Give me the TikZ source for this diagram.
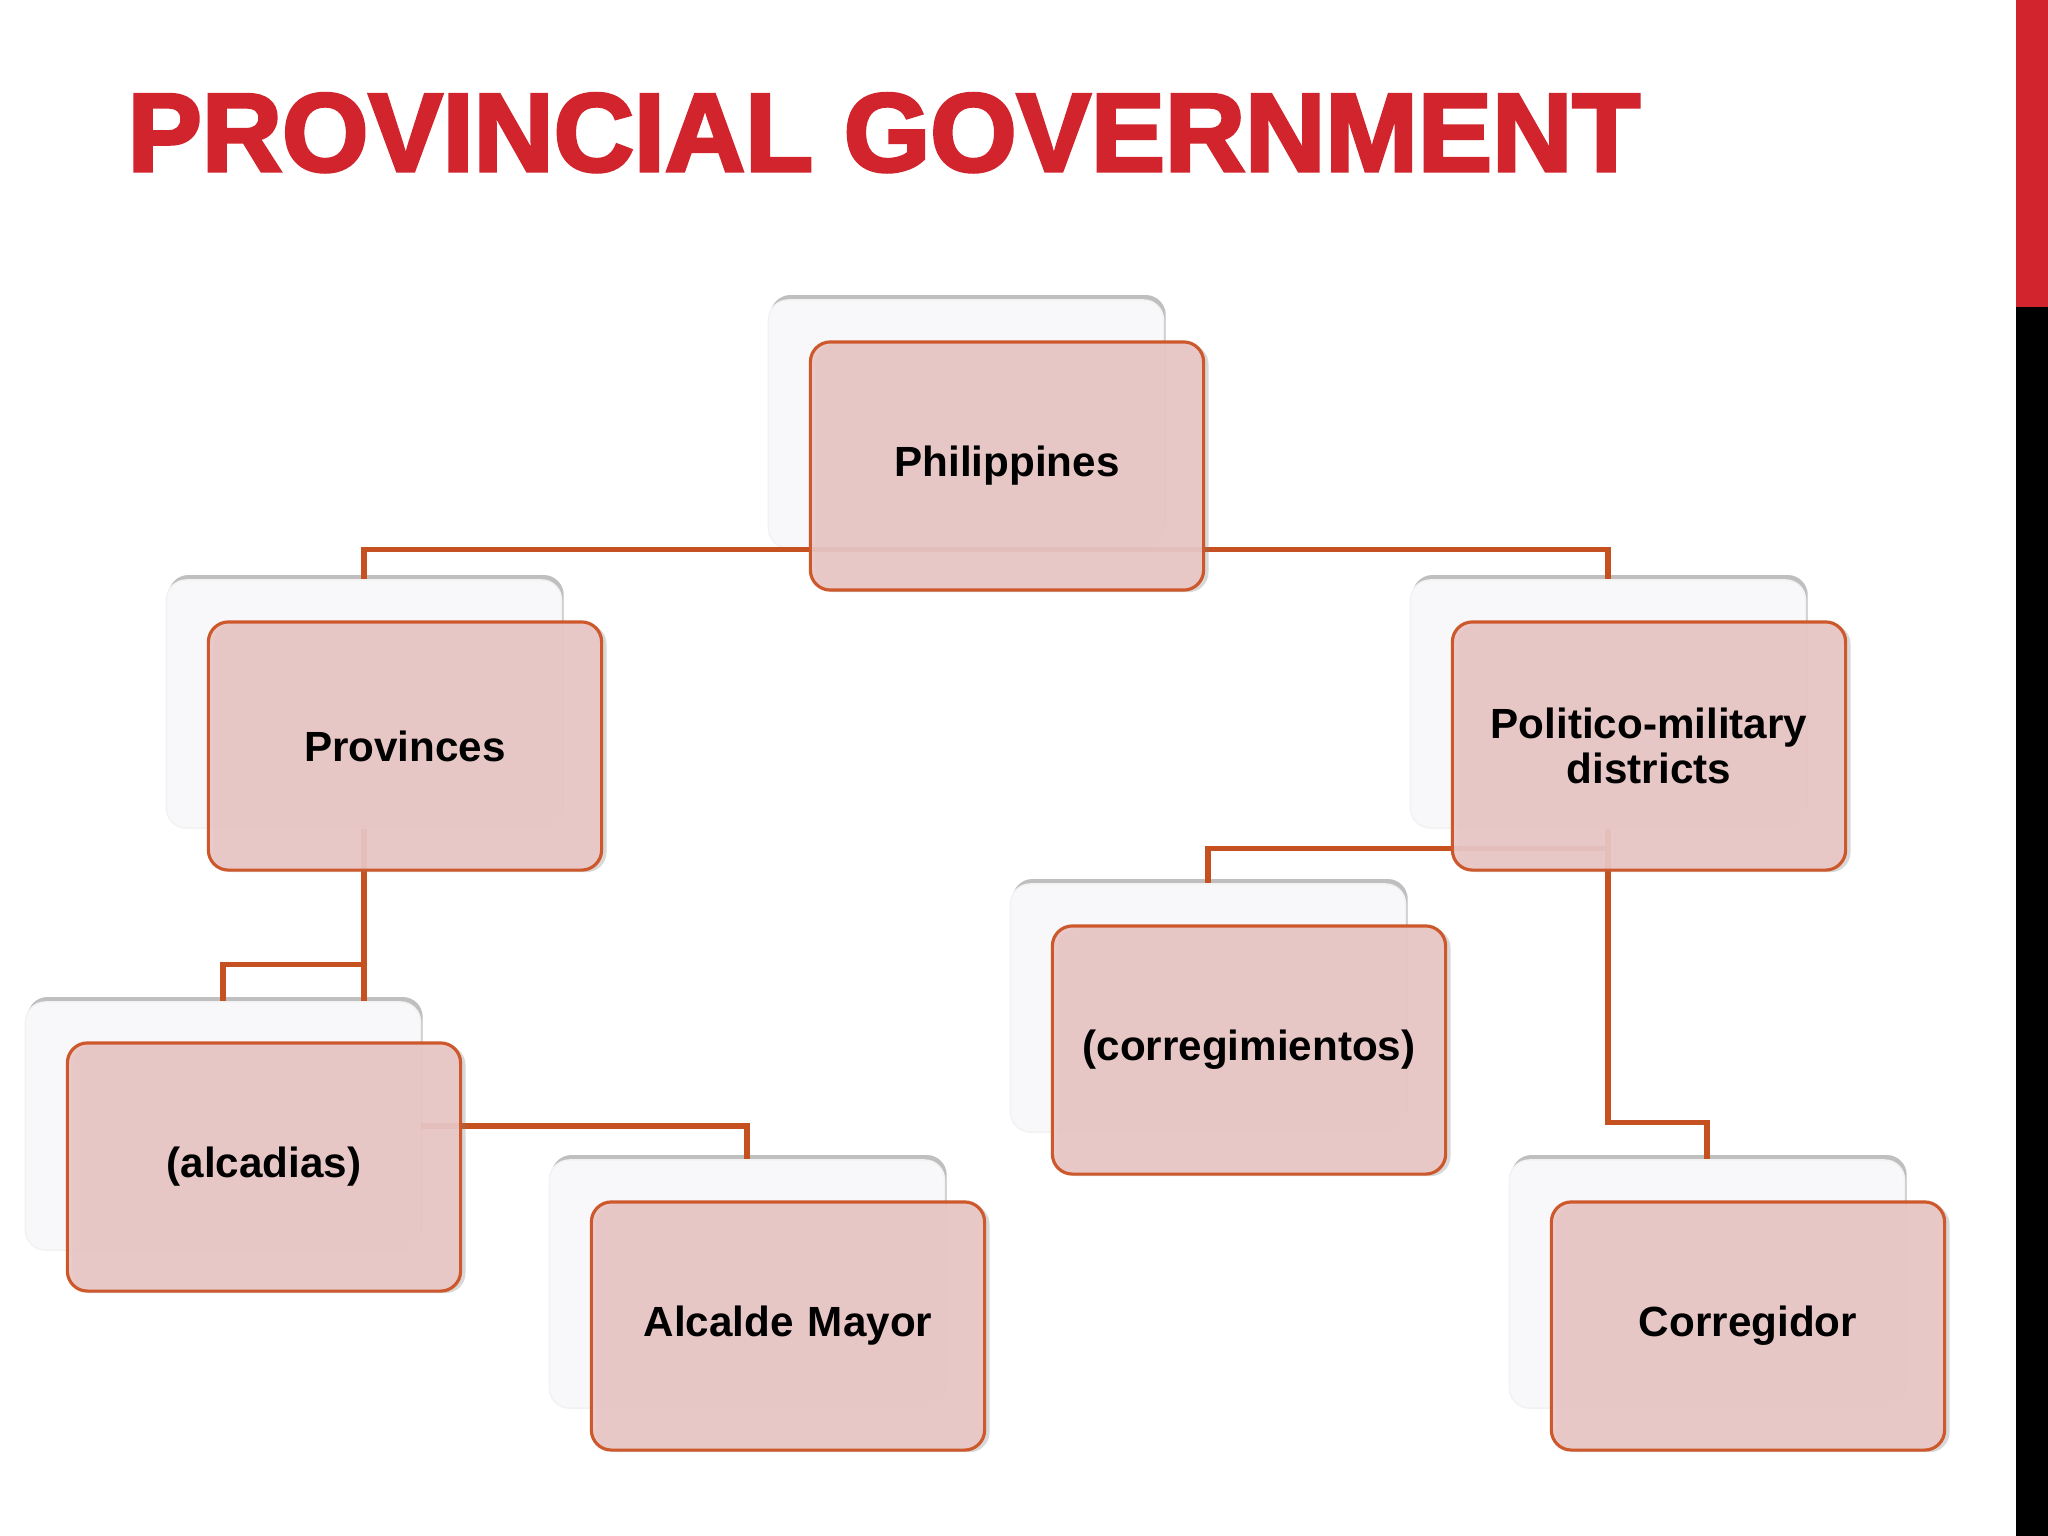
\documentclass[tikz,border=0pt]{standalone}
\usepackage{fontspec}
\setmainfont{Liberation Sans}
\newfontfamily\titlefont{Liberation Sans}[UprightFont={* Bold}, UprightFeatures={FakeBold=3}]
\usetikzlibrary{shadows}
\definecolor{titlered}{RGB}{209,36,45}
\definecolor{linkorange}{RGB}{197,81,32}
\definecolor{boxpink}{RGB}{233,199,197}
\definecolor{boxedge}{RGB}{205,88,44}
\definecolor{ghost}{RGB}{248,247,250}

\begin{document}
\begin{tikzpicture}[x=0.01cm, y=-0.01cm]

\tikzstyle{back} = [rectangle, rounded corners=0.2cm, minimum width=3.95cm, minimum height=2.48cm, inner sep=0pt, fill=ghost, draw=gray!10, general shadow={shadow xshift=0.6pt, shadow yshift=1.4pt, fill=gray!50}]

\tikzstyle{front} = [rectangle, rounded corners=0.2cm, minimum width=3.93cm, minimum height=2.48cm, inner sep=0pt, text width=3.6cm, align=center, draw=boxedge, line width=0.9pt, fill=boxpink, fill opacity=0.92, text opacity=1, font=\bfseries\fontsize{12}{12.6}\selectfont, drop shadow={shadow xshift=1.4pt, shadow yshift=-0.6pt, opacity=0.3}]

\tikzstyle{link} = [draw=linkorange, line width=1.45pt]

    \useasboundingbox (0,0) rectangle (2048,1536);
    \fill[white] (0,0) rectangle (2048,1536);
    \fill[titlered] (2016,0) rectangle (2048,307);
    \fill[black] (2016,307) rectangle (2048,1536);

    \node [anchor=base west, inner sep=0pt, text=titlered, font=\titlefont\fontsize{31.6}{32}\selectfont] (title) at (127,171) {PROVINCIAL GOVERNMENT};

    \node [back] (phB) at (966,424) {};
    \node [back] (provB) at (364,704) {};
    \node [back] (polB) at (1608,704) {};
    \node [back] (alcB) at (223,1126) {};
    \node [back] (corB) at (1208,1008) {};
    \node [back] (almB) at (747,1284) {};
    \node [back] (cgdB) at (1707,1284) {};

    \draw [link] (provB.north) -- ++(0,-30) -| (polB.north);
    \draw [link] (alcB.north) -- ++(0,-37) -| (provB.south);
    \draw [link] (provB.south) -- (provB.south |- alcB.north);
    \draw [link] (alcB.east) -| (almB.north);
    \draw [link] (polB.south) -- ++(0,20) -| (corB.north);
    \draw [link] (cgdB.north) -- ++(0,-37) -| (polB.south);

    \path (phB) ++(41,42) node [front] (ph) {Philippines};
    \path (provB) ++(41,42) node [front] (prov) {Provinces};
    \path (polB) ++(41,42) node [front] (pol) {Politico-military\\districts};
    \path (alcB) ++(41,41) node [front] (alc) {(alcadias)};
    \path (corB) ++(41,42) node [front] (cor) {(corregimientos)};
    \path (almB) ++(41,42) node [front] (alm) {Alcalde Mayor};
    \path (cgdB) ++(41,42) node [front] (cgd) {Corregidor};

\end{tikzpicture}
\end{document}
